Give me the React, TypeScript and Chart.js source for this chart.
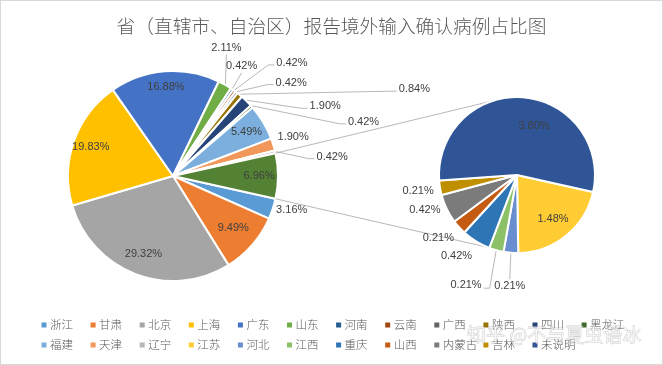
import React, { useEffect, useRef } from 'react';
import { Chart, registerables } from 'chart.js';

Chart.register(...registerables);

// ---------------- data ----------------
const TITLE = '省（直辖市、自治区）报告境外输入确认病例占比图';
const WATERMARK = '知乎 @不与夏虫语冰';

const provinces = [
  '浙江', '甘肃', '北京', '上海', '广东', '山东', '河南', '云南', '广西', '陕西', '四川', '黑龙江',
  '福建', '天津', '辽宁', '江苏', '河北', '江西', '重庆', '山西', '内蒙古', '吉林', '未说明',
];
const shares = [
  3.16, 9.49, 29.32, 19.83, 16.88, 2.11, 0.42, 0.42, 0.42, 0.84, 1.90, 0.42,
  5.49, 1.90, 0.42, 1.48, 0.21, 0.21, 0.42, 0.21, 0.42, 0.21, 3.80,
];
const provinceColors = [
  '#5B9BD5', '#ED7D31', '#A5A5A5', '#FFC000', '#4472C4', '#70AD47', '#255E91', '#9E480E', '#636363', '#997300', '#264478', '#43682B',
  '#7CAFDD', '#F1975A', '#B7B7B7', '#FFCD33', '#698ED0', '#8CC168', '#2E75B6', '#C55A11', '#7B7B7B', '#BF8F00', '#2F5597',
];
const OTHER_LABEL = '其他';
const OTHER_COLOR = '#548235';
const SPLIT = 15; // first 15 provinces in the main pie, the rest in the secondary pie

// ---------------- label placement (style config) ----------------
type Place = { mode: 'in'; f: number; dAngle?: number } | { mode: 'out'; dx: number; dy: number; leader?: boolean };
const mainPlacements: Place[] = [
  { mode: 'out', dx: 18, dy: 1 },
  { mode: 'in', f: 0.76 },
  { mode: 'in', f: 0.79 },
  { mode: 'in', f: 0.83 },
  { mode: 'in', f: 0.85 },
  { mode: 'out', dx: 1, dy: -36, leader: true },
  { mode: 'out', dx: 9, dy: -22, leader: true },
  { mode: 'out', dx: 57, dy: -27, leader: true },
  { mode: 'out', dx: 54, dy: -9, leader: true },
  { mode: 'out', dx: 174, dy: -5, leader: true },
  { mode: 'out', dx: 78, dy: 6, leader: true },
  { mode: 'out', dx: 111, dy: 16, leader: true },
  { mode: 'in', f: 0.815 },
  { mode: 'out', dx: 19, dy: -7 },
  { mode: 'out', dx: 56, dy: 5, leader: true },
  { mode: 'in', f: 0.82 },
];
const secondaryPlacements: Place[] = [
  { mode: 'in', f: 0.73 },
  { mode: 'out', dx: -1, dy: 32, leader: true },
  { mode: 'out', dx: -30, dy: 34, leader: true },
  { mode: 'out', dx: -19, dy: 14 },
  { mode: 'out', dx: -20, dy: 10 },
  { mode: 'out', dx: -21, dy: 1 },
  { mode: 'out', dx: -21, dy: 3 },
  { mode: 'in', f: 0.66, dAngle: 15 },
];

const LABEL_FONT = '11px "Liberation Sans", Arial, sans-serif';
const LABEL_COLOR = '#404040';
const LINE_COLOR = '#A6A6A6';
const CJK = '"Noto Sans CJK SC", sans-serif';

const W = 663;
const H = 365;

const pieLabelPlugin = {
  id: 'pieLabels',
  afterDatasetsDraw(chart: any, _args: any, opts: any) {
    const placements: Place[] = opts.placements || [];
    const { ctx } = chart;
    const meta = chart.getDatasetMeta(0);
    const data = chart.data.datasets[0].data as number[];
    ctx.save();
    ctx.font = LABEL_FONT;
    ctx.textAlign = 'center';
    ctx.textBaseline = 'middle';
    ctx.fillStyle = LABEL_COLOR;
    ctx.strokeStyle = LINE_COLOR;
    ctx.lineWidth = 0.8;
    meta.data.forEach((arc: any, i: number) => {
      const p = placements[i];
      if (!p) return;
      const { x, y, startAngle, endAngle, outerRadius } = arc.getProps(['x', 'y', 'startAngle', 'endAngle', 'outerRadius'], true);
      const txt = Number(data[i]).toFixed(2) + '%';
      let mid = (startAngle + endAngle) / 2;
      let cx: number, cy: number;
      if (p.mode === 'in') {
        mid += ((p.dAngle || 0) * Math.PI) / 180;
        cx = x + Math.cos(mid) * outerRadius * p.f;
        cy = y + Math.sin(mid) * outerRadius * p.f;
      } else {
        const ex = x + Math.cos(mid) * (outerRadius + 1);
        const ey = y + Math.sin(mid) * (outerRadius + 1);
        cx = ex + p.dx;
        cy = ey + p.dy;
        if (p.leader) {
          const w = ctx.measureText(txt).width;
          const h = 11;
          ctx.beginPath();
          ctx.moveTo(ex, ey);
          if (Math.abs(cx - ex) < w / 2) {
            const ay = cy > ey ? cy - h / 2 - 1 : cy + h / 2 + 1;
            ctx.lineTo(cx, ay);
          } else if (cx > ex) {
            const ax = cx - w / 2 - 2;
            ctx.lineTo(ax - 6, cy + 2);
            ctx.lineTo(ax, cy + 2);
          } else {
            const ax = cx + w / 2 + 2;
            ctx.lineTo(ax + 6, cy + 3);
            ctx.lineTo(ax, cy + 3);
          }
          ctx.stroke();
        }
      }
      ctx.fillText(txt, cx, cy);
    });
    ctx.restore();
  },
};

export default function App() {
  const mainRef = useRef<HTMLCanvasElement | null>(null);
  const secRef = useRef<HTMLCanvasElement | null>(null);

  useEffect(() => {
    if (!mainRef.current || !secRef.current) return;
    const mainLabels = provinces.slice(0, SPLIT).concat(OTHER_LABEL);
    const secLabels = provinces.slice(SPLIT);
    const secValues = shares.slice(SPLIT);
    const otherValue = secValues.reduce((a, b) => a + b, 0);
    const mainValues = shares.slice(0, SPLIT).concat(otherValue);
    const total = shares.reduce((a, b) => a + b, 0);
    // the "other" slice is centred on 3 o'clock, facing the secondary pie
    const rotation = 90 + (otherValue / total) * 180;

    const secondary = new Chart(secRef.current, {
      type: 'pie',
      data: {
        labels: secLabels,
        datasets: [{
          data: secValues,
          backgroundColor: provinceColors.slice(SPLIT),
          borderColor: '#FFFFFF',
          borderWidth: 2,
        }],
      },
      options: {
        responsive: false,
        animation: false,
        events: [],
        rotation,
        layout: { padding: { left: 438, right: 67, top: 96, bottom: 111 } },
        plugins: {
          legend: { display: false },
          tooltip: { enabled: false },
          // @ts-ignore
          pieLabels: { placements: secondaryPlacements },
        },
      } as any,
      plugins: [pieLabelPlugin],
    });

    const decorPlugin = {
      id: 'decor',
      beforeDraw(chart: any) {
        const { ctx } = chart;
        ctx.save();
        ctx.fillStyle = '#FFFFFF';
        ctx.fillRect(0, 0, W, H);
        ctx.restore();
      },
      afterDraw(chart: any) {
        const { ctx } = chart;
        ctx.save();
        // title
        ctx.fillStyle = '#595959';
        ctx.font = '300 18.7px ' + CJK;
        ctx.textAlign = 'center';
        ctx.textBaseline = 'middle';
        ctx.fillText(TITLE, W / 2, 26);

        // connector lines between the "other" slice and the secondary pie
        const arcs = chart.getDatasetMeta(0).data;
        const other = arcs[arcs.length - 1] as any;
        const o = other.getProps(['x', 'y', 'startAngle', 'endAngle', 'outerRadius'], true);
        const s = (secondary.getDatasetMeta(0).data[0] as any).getProps(['x', 'y', 'outerRadius'], true);
        const toRad = (clockDeg: number) => ((clockDeg - 90) * Math.PI) / 180;
        const ends = [toRad(342), toRad(202)];
        const starts = [o.startAngle, o.endAngle];
        ctx.strokeStyle = LINE_COLOR;
        ctx.lineWidth = 0.8;
        for (let k = 0; k < 2; k++) {
          ctx.beginPath();
          ctx.moveTo(o.x + Math.cos(starts[k]) * o.outerRadius, o.y + Math.sin(starts[k]) * o.outerRadius);
          ctx.lineTo(s.x + Math.cos(ends[k]) * s.outerRadius, s.y + Math.sin(ends[k]) * s.outerRadius);
          ctx.stroke();
        }

        // legend (grid of 12 columns)
        const colW = 49.1;
        const left0 = 41.5;
        const rows = [325, 345];
        ctx.font = '300 11.5px ' + CJK;
        ctx.textAlign = 'left';
        ctx.textBaseline = 'middle';
        provinces.forEach((name, i) => {
          const r = Math.floor(i / 12);
          const c = i % 12;
          const bx = left0 + c * colW;
          const by = rows[r];
          ctx.fillStyle = provinceColors[i];
          ctx.fillRect(bx, by - 2.5, 5, 5);
          ctx.fillStyle = '#595959';
          ctx.fillText(name, bx + 8.5, by);
        });

        // watermark
        ctx.font = '19px ' + CJK;
        ctx.fillStyle = 'rgba(255,255,255,0.5)';
        ctx.strokeStyle = 'rgba(150,150,150,0.45)';
        ctx.lineWidth = 0.8;
        ctx.strokeText(WATERMARK, 467, 335);
        ctx.fillText(WATERMARK, 467, 335);

        // chart border
        ctx.strokeStyle = '#D9D9D9';
        ctx.lineWidth = 1;
        ctx.strokeRect(0.5, 0.5, W - 1, H - 1);
        ctx.restore();
      },
    };

    const main = new Chart(mainRef.current, {
      type: 'pie',
      data: {
        labels: mainLabels,
        datasets: [{
          data: mainValues,
          backgroundColor: provinceColors.slice(0, SPLIT).concat(OTHER_COLOR),
          borderColor: '#FFFFFF',
          borderWidth: 2,
        }],
      },
      options: {
        responsive: false,
        animation: false,
        events: [],
        rotation,
        layout: { padding: { left: 67, right: 384, top: 70, bottom: 83 } },
        plugins: {
          legend: { display: false },
          tooltip: { enabled: false },
          // @ts-ignore
          pieLabels: { placements: mainPlacements },
        },
      } as any,
      plugins: [decorPlugin, pieLabelPlugin],
    });

    return () => {
      main.destroy();
      secondary.destroy();
    };
  }, []);

  const canvasStyle: React.CSSProperties = { position: 'absolute', left: 0, top: 0, display: 'block' };
  return (
    <div style={{ position: 'fixed', left: 0, top: 0, width: W, height: H, background: '#FFFFFF' }}>
      <canvas ref={mainRef} width={W} height={H} style={canvasStyle} />
      <canvas ref={secRef} width={W} height={H} style={canvasStyle} />
    </div>
  );
}
